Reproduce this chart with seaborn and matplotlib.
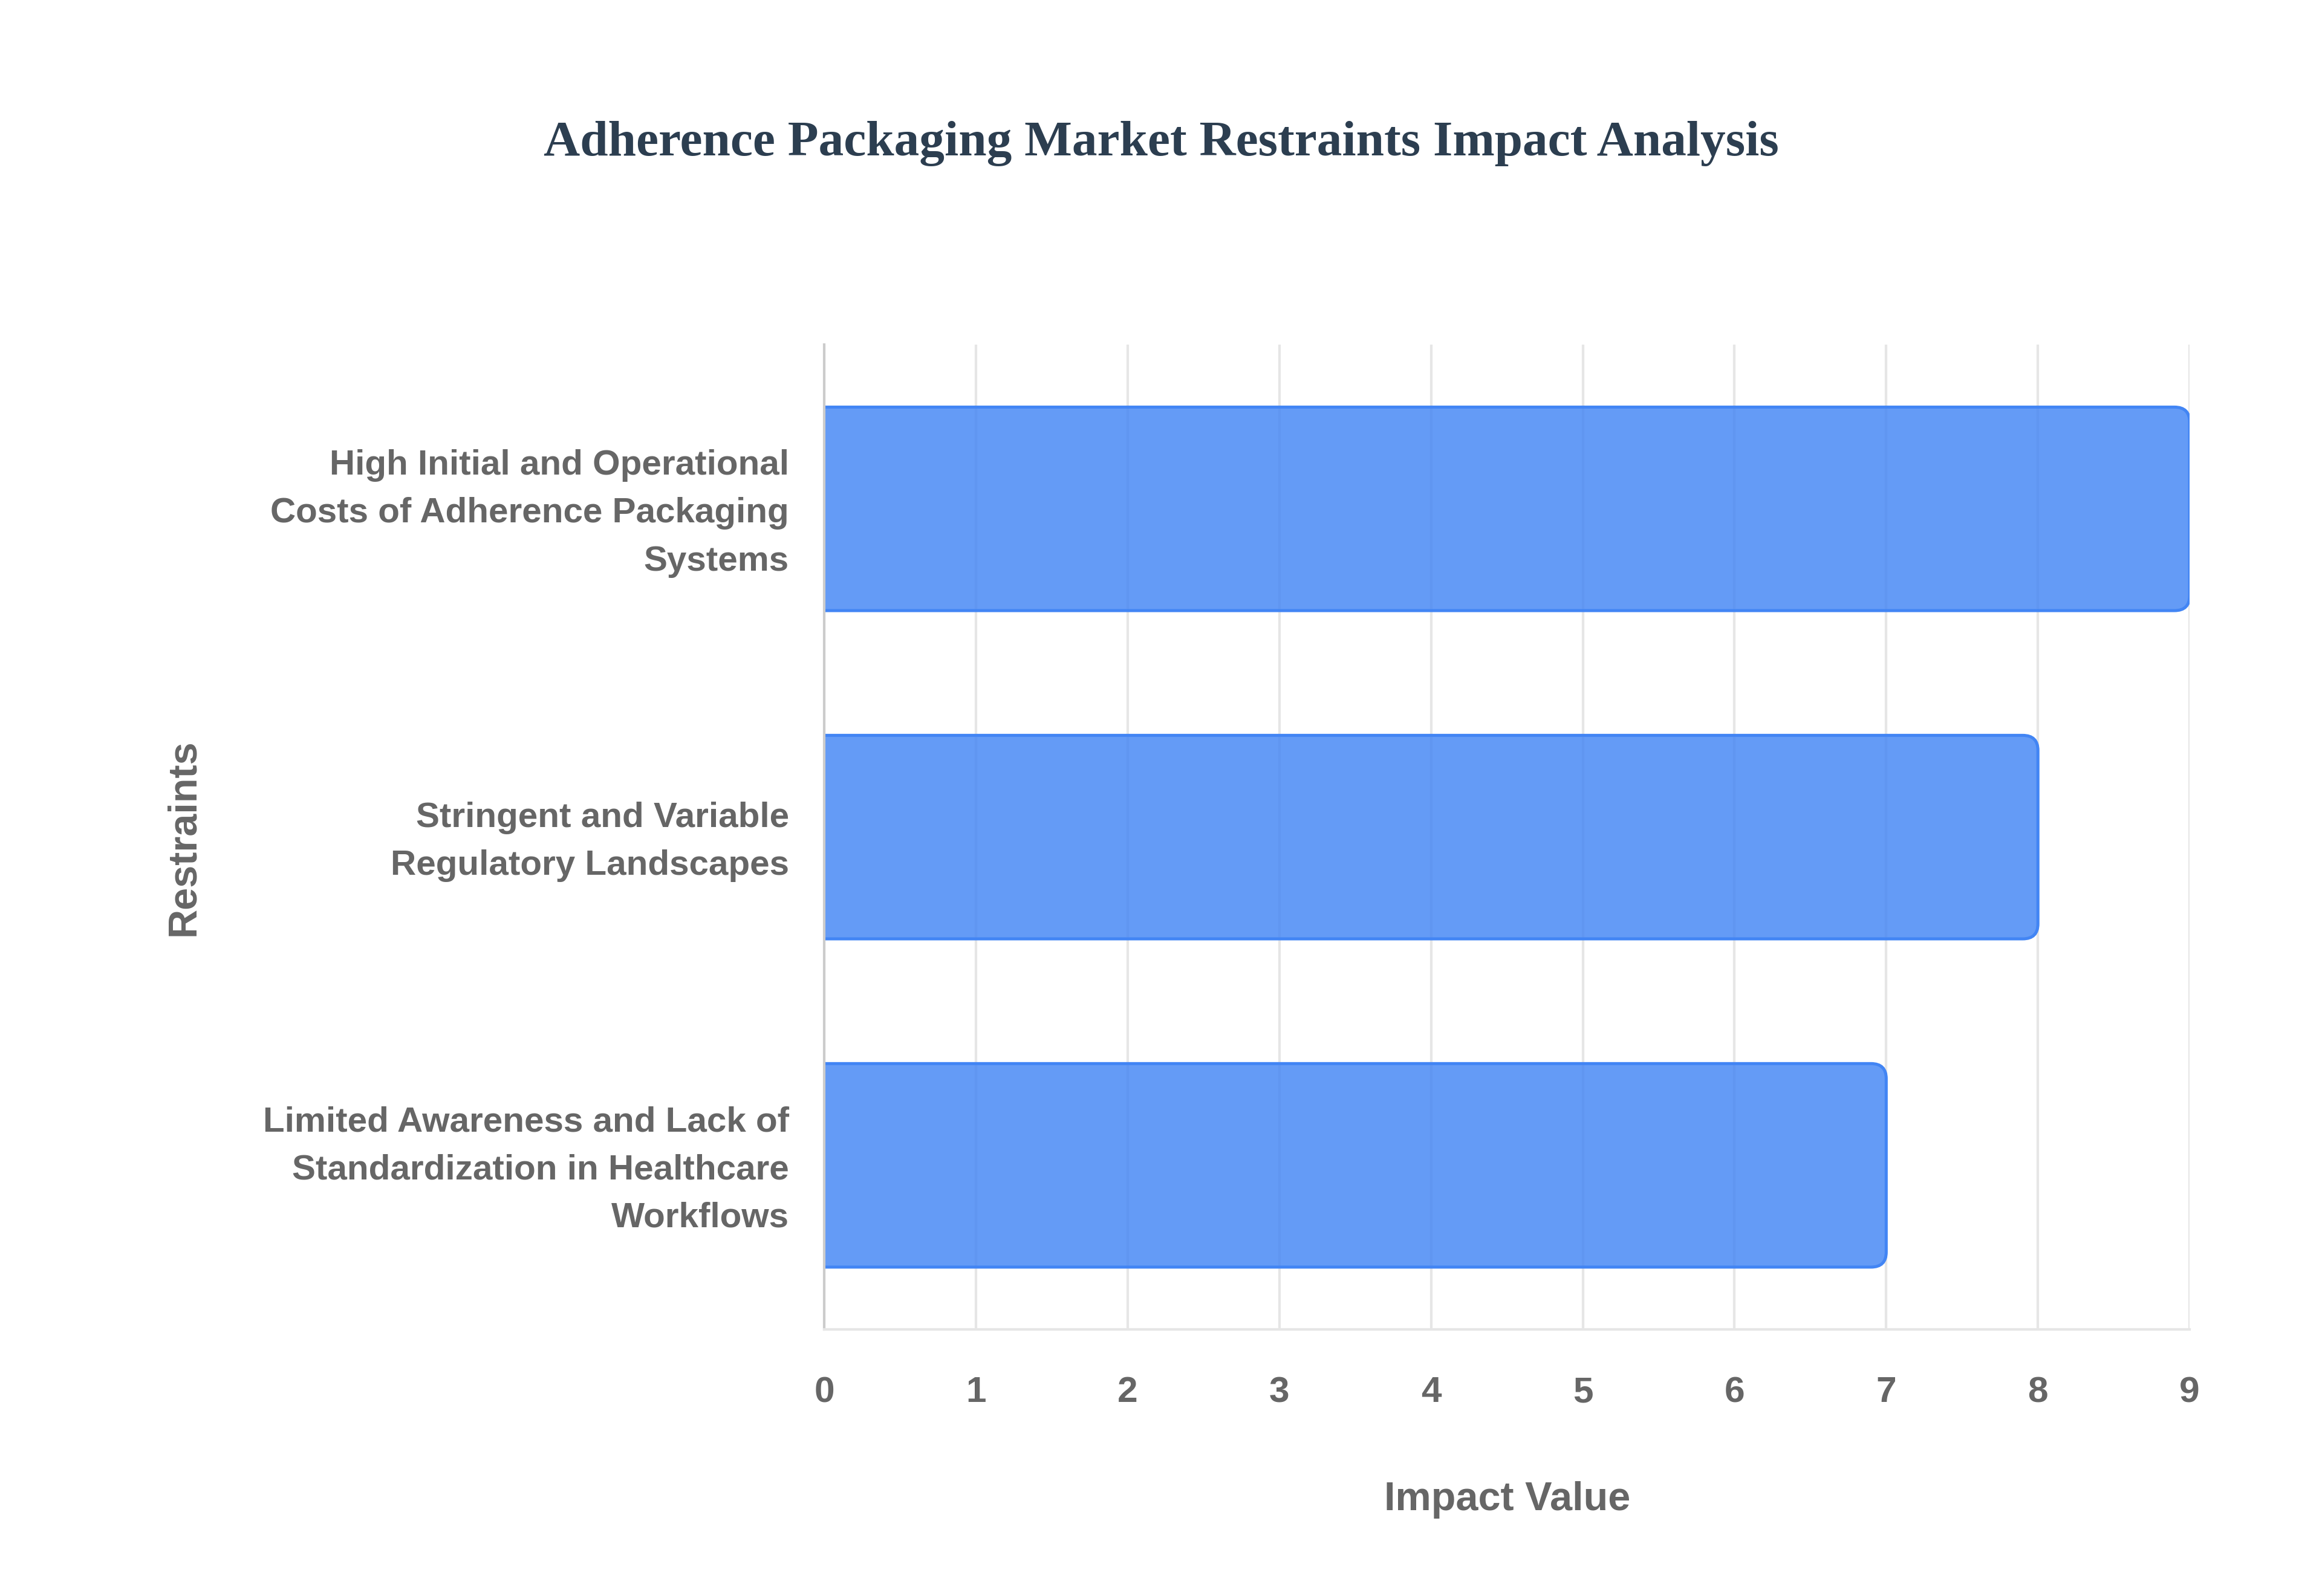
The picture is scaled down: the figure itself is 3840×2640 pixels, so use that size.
import matplotlib
matplotlib.use("Agg")
import matplotlib.pyplot as plt
import matplotlib.transforms as mtransforms
from matplotlib.patches import FancyBboxPatch
import pandas as pd
import seaborn as sns

restraints = [
    "High Initial and Operational\nCosts of Adherence Packaging\nSystems",
    "Stringent and Variable\nRegulatory Landscapes",
    "Limited Awareness and Lack of\nStandardization in Healthcare\nWorkflows",
]
impact_values = [9, 8, 7]
x_ticks = list(range(0, 10))

TEXT_GRAY = "#666666"
GRID = "#e6e6e6"
BAR = "#4285F4"

sns.set_theme(style="white")
plt.rcParams["font.family"] = ["Liberation Sans", "DejaVu Sans"]

df = pd.DataFrame({"Restraint": restraints, "Impact": impact_values})

fig = plt.figure(figsize=(12.8, 8.8), dpi=300)
ax = fig.add_axes([0.355, 0.167, 0.588, 0.617])

sns.barplot(data=df, x="Impact", y="Restraint", orient="h", width=0.62,
            color=BAR, saturation=1, ax=ax)

ax.set_xlim(0, 9)
ax.set_ylim(2.5, -0.5)

# swap the plain bars for ones with rounded ends
r = 0.1
for p in list(ax.patches):
    x, y, w, h = p.get_x(), p.get_y(), p.get_width(), p.get_height()
    p.remove()
    ax.add_patch(FancyBboxPatch((x - r, y), w + r, h,
                                boxstyle=f"round,pad=0,rounding_size={r}",
                                mutation_aspect=0.46,
                                facecolor=(66 / 255, 133 / 255, 244 / 255, 0.82),
                                edgecolor=BAR, linewidth=1.2, zorder=2))

ax.set_xticks(x_ticks)
ax.grid(axis="x", color=GRID, linewidth=1)
ax.grid(axis="y", visible=False)
ax.set_axisbelow(True)

for side in ["top", "right"]:
    ax.spines[side].set_visible(False)
ax.spines["left"].set_color("#cccccc")
ax.spines["left"].set_linewidth(1)
ax.spines["bottom"].set_color(GRID)
ax.spines["bottom"].set_linewidth(1)

ax.tick_params(axis="x", length=6.5, width=1, color=GRID, pad=12,
               labelsize=14.5, labelcolor=TEXT_GRAY)
ax.tick_params(axis="y", length=0, pad=14, labelsize=14, labelcolor=TEXT_GRAY)
for lbl in ax.get_xticklabels():
    lbl.set_fontweight("bold")
nudge = mtransforms.ScaledTranslation(0, 2.6 / 72, fig.dpi_scale_trans)
for lbl in ax.get_yticklabels():
    lbl.set_fontweight("bold")
    lbl.set_multialignment("right")
    lbl.set_linespacing(1.6)
    lbl.set_transform(lbl.get_transform() + nudge)

ax.set_xlabel("Impact Value", fontsize=16, fontweight="bold", color=TEXT_GRAY, va="center")
ax.set_ylabel("Restraints", fontsize=16, fontweight="bold", color=TEXT_GRAY, va="center")
ax.xaxis.set_label_coords(0.5, -0.173)
ax.yaxis.set_label_coords(-0.469, 0.5)

fig.text(0.5, 0.910, "Adherence Packaging Market Restraints Impact Analysis",
         ha="center", va="center", fontsize=20, fontweight="bold",
         family=["Liberation Serif", "DejaVu Serif"], color="#2c3e50")

fig.savefig("out.png", dpi=300)
